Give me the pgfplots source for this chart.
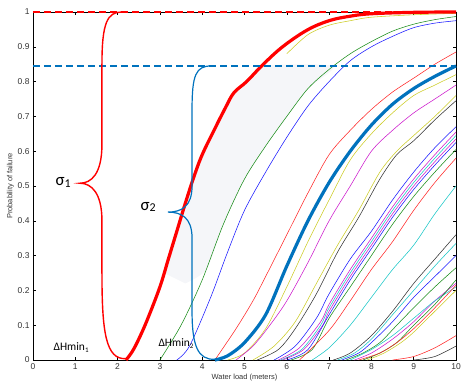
\documentclass[border=0pt]{standalone}
\usepackage{pgfplots}
\pgfplotsset{compat=1.18}
\usepackage{fontspec}
\setmainfont{Liberation Sans}
\newfontfamily\calfont{Carlito}
\definecolor{mb}{rgb}{0.1,0.1,1}
\definecolor{mg}{rgb}{0.1,0.55,0.1}
\definecolor{mr}{rgb}{1,0.15,0.15}
\definecolor{mc}{rgb}{0.1,0.78,0.78}
\definecolor{mm}{rgb}{0.8,0.1,0.8}
\definecolor{my}{rgb}{0.8,0.8,0.15}
\definecolor{mk}{rgb}{0.2,0.2,0.2}
\definecolor{tblue}{HTML}{0072BD}
\definecolor{shade}{HTML}{F5F6F9}
\begin{document}
\begin{tikzpicture}
\begin{axis}[name=ax, scale only axis, width=423bp, height=348bp,
  xmin=0, xmax=10, ymin=0, ymax=1,
  xtick={0,1,2,3,4,5,6,7,8,9,10},
  ytick={0,0.1,0.2,0.3,0.4,0.5,0.6,0.7,0.8,0.9,1},
  yticklabels={0,0.1,0.2,0.3,0.4,0.5,0.6,0.7,0.8,0.9,1},
  /pgf/number format/assume math mode=true,
  tick label style={font=\fontsize{8.5}{10}\selectfont, text=black!80},
  major tick length=3bp,
  tick style={black, line width=0.5bp},
  axis line style={black, line width=0.7bp},
  xlabel={Water load (meters)}, ylabel={Probability of failure},
  label style={font=\fontsize{7.5}{9}\selectfont, text=black!80},
  xlabel style={yshift=2bp},
  ylabel style={yshift=-3bp},
  clip=false, every axis plot/.append style={line join=round},
  thin/.style={line width=0.55bp, smooth, tension=0.5},
]
% shaded region
\addplot[draw=none, fill=shade, smooth, tension=0.4] coordinates {(3.1,0.25)(3.4,0.37)(3.75,0.51)(4.0,0.59)(4.3,0.665)(4.55,0.725)(4.75,0.768)(5.05,0.80)(5.43,0.845)(7.1,0.845)(6.5,0.78)(6.0,0.70)(5.5,0.615)(5.0,0.52)(4.5,0.39)(4.1,0.26)(3.6,0.22)} -- cycle;
% thin curves
\addplot[mg, thin] coordinates {(3.0,0)(3.5,0.1)(4.0,0.23)(4.5,0.39)(5.0,0.52)(5.5,0.615)(6.0,0.70)(6.5,0.78)(7.0,0.835)(7.5,0.88)(8.0,0.915)(8.5,0.945)(9.0,0.965)(9.5,0.978)(10,0.987)};
\addplot[mb, thin] coordinates {(3.4,0)(3.7,0.04)(4.2,0.18)(4.6,0.31)(5.0,0.43)(5.5,0.54)(6.0,0.64)(6.5,0.73)(7.0,0.80)(7.5,0.86)(8.0,0.90)(8.5,0.93)(9.0,0.955)(9.5,0.968)(10,0.975)};
\addplot[my, thin] coordinates {(6.0,0.88)(6.5,0.935)(7,0.962)(7.5,0.975)(8,0.985)(9,0.992)(10,0.996)};
\addplot[mr, thin] coordinates {(4.3,0)(4.8,0.09)(5.2,0.17)(5.5,0.24)(6.0,0.36)(6.5,0.48)(7.0,0.59)(7.5,0.66)(8.0,0.72)(8.5,0.77)(9.0,0.81)(9.5,0.85)(10,0.885)};
\addplot[my, thin] coordinates {(4.6,0)(5.0,0.02)(5.5,0.09)(6.0,0.21)(6.5,0.34)(7.0,0.46)(7.5,0.575)(8.0,0.65)(8.5,0.71)(9.0,0.76)(9.5,0.79)(10,0.82)};
\addplot[mm, thin] coordinates {(4.8,0)(5.2,0.04)(5.6,0.10)(6.0,0.17)(6.5,0.28)(7.0,0.40)(7.5,0.50)(8.0,0.60)(8.5,0.66)(9.0,0.71)(9.5,0.75)(10,0.79)};
\addplot[my, thin] coordinates {(5.2,0)(5.7,0.04)(6.2,0.11)(6.7,0.22)(7.2,0.33)(7.7,0.43)(8.2,0.54)(8.6,0.60)(9.0,0.645)(9.5,0.70)(10,0.76)};
\addplot[mk, thin] coordinates {(5.3,0)(5.8,0.03)(6.2,0.09)(6.7,0.19)(7.2,0.31)(7.7,0.41)(8.2,0.52)(8.6,0.59)(9.0,0.63)(9.5,0.69)(10,0.745)};
% bundle
\addplot[mb, thin] coordinates {(5.7,0)(6.2,0.04)(6.7,0.12)(7.0,0.19)(7.5,0.29)(8.0,0.37)(8.5,0.46)(9.0,0.54)(9.5,0.61)(10,0.67)};
\addplot[mm, thin] coordinates {(5.8,0)(6.3,0.035)(6.8,0.11)(7.0,0.16)(7.5,0.26)(8.0,0.35)(8.5,0.44)(9.0,0.52)(9.5,0.59)(10,0.655)};
\addplot[mc, thin] coordinates {(5.85,0)(6.35,0.03)(6.8,0.10)(7.0,0.15)(7.5,0.25)(8.0,0.34)(8.5,0.43)(9.0,0.51)(9.5,0.58)(10,0.645)};
\addplot[mm, thin] coordinates {(5.9,0)(6.4,0.03)(6.85,0.10)(7.0,0.14)(7.5,0.24)(8.0,0.33)(8.5,0.42)(9.0,0.50)(9.5,0.57)(10,0.635)};
\addplot[mb, thin] coordinates {(6.0,0)(6.5,0.03)(7.0,0.13)(7.5,0.23)(8.0,0.32)(8.5,0.41)(9.0,0.49)(9.5,0.56)(10,0.625)};
\addplot[mg, thin] coordinates {(6.1,0)(6.6,0.03)(7.0,0.12)(7.5,0.21)(8.0,0.30)(8.5,0.39)(9.0,0.47)(9.5,0.54)(10,0.605)};
\addplot[mr, thin] coordinates {(6.3,0)(7.0,0.085)(7.5,0.17)(8.0,0.26)(8.5,0.34)(9.0,0.43)(9.5,0.51)(10,0.58)};
\addplot[mc, thin] coordinates {(6.6,0)(7.0,0.035)(7.5,0.10)(8.0,0.18)(8.5,0.26)(9.0,0.33)(9.5,0.42)(10,0.50)};
% bottom right group
\addplot[mk, thin] coordinates {(7.1,0)(7.5,0.02)(8.0,0.07)(8.5,0.14)(9.0,0.22)(9.5,0.29)(10,0.36)};
\addplot[mc, thin] coordinates {(7.2,0)(7.6,0.02)(8.0,0.06)(8.5,0.13)(9.0,0.20)(9.5,0.27)(10,0.335)};
\addplot[mb, thin] coordinates {(7.3,0)(7.7,0.02)(8.0,0.05)(8.5,0.11)(9.0,0.18)(9.5,0.24)(10,0.30)};
\addplot[mg, thin] coordinates {(7.4,0)(7.8,0.02)(8.2,0.05)(8.6,0.10)(9.0,0.15)(9.5,0.21)(10,0.265)};
\addplot[mm, thin] coordinates {(7.6,0)(8.0,0.02)(8.5,0.06)(9.0,0.11)(9.5,0.17)(10,0.22)};
\addplot[mc, thin] coordinates {(7.5,0)(8.0,0.03)(8.5,0.07)(9.0,0.12)(9.5,0.17)(10,0.21)};
\addplot[mg, thin] coordinates {(7.8,0)(8.2,0.02)(8.6,0.05)(9.0,0.10)(9.5,0.16)(10,0.23)};
\addplot[mr, thin] coordinates {(7.7,0)(8.2,0.02)(8.6,0.05)(9.0,0.09)(9.5,0.15)(10,0.215)};
\addplot[my, thin] coordinates {(7.9,0)(8.3,0.02)(8.7,0.05)(9.0,0.08)(9.5,0.14)(10,0.20)};
\addplot[mr, thin] coordinates {(8.5,0)(9.0,0.01)(9.5,0.035)(10,0.07)};
\addplot[mk, thin] coordinates {(9.0,0)(9.5,0.01)(10,0.04)};
% thick curves
\addplot[red, line width=3.2bp, smooth, tension=0.6] coordinates {(2.2,0)(2.35,0.025)(2.5,0.06)(2.7,0.115)(3.0,0.21)(3.2,0.29)(3.4,0.37)(3.6,0.45)(3.8,0.525)(4.0,0.59)(4.3,0.665)(4.55,0.725)(4.75,0.768)(5.05,0.80)(5.43,0.848)(5.9,0.90)(6.48,0.948)(7.0,0.975)(7.5,0.988)(8.0,0.995)(9.0,0.999)(10,1.0)};
\addplot[tblue, line width=3.2bp, smooth, tension=0.5] coordinates {(4.3,0)(4.6,0.012)(5.0,0.05)(5.5,0.13)(6.0,0.27)(6.5,0.40)(7.0,0.51)(7.5,0.60)(8.0,0.675)(8.5,0.735)(9.0,0.78)(9.5,0.815)(10,0.845)};
% dashed levels
\addplot[red, line width=1.3bp, dash pattern=on 7bp off 4bp] coordinates {(0,1)(10,1)};
\addplot[tblue, line width=1.3bp, dash pattern=on 7bp off 4bp] coordinates {(0,0.845)(10,0.845)};
% braces
\draw[red, line width=1.4bp] (axis cs:2.2,0.004) .. controls (axis cs:1.72,0.0) and (axis cs:1.63,0.08) .. (axis cs:1.63,0.25) -- (axis cs:1.63,0.40) .. controls (axis cs:1.63,0.48) and (axis cs:1.38,0.508) .. (axis cs:1.11,0.508) .. controls (axis cs:1.38,0.508) and (axis cs:1.63,0.535) .. (axis cs:1.63,0.62) -- (axis cs:1.63,0.85) .. controls (axis cs:1.63,0.97) and (axis cs:1.76,1.0) .. (axis cs:2.1,1.0);
\draw[tblue, line width=1.2bp] (axis cs:4.3,0.002) .. controls (axis cs:3.9,0.0) and (axis cs:3.76,0.04) .. (axis cs:3.76,0.14) -- (axis cs:3.76,0.35) .. controls (axis cs:3.76,0.41) and (axis cs:3.5,0.425) .. (axis cs:3.19,0.425) .. controls (axis cs:3.5,0.425) and (axis cs:3.76,0.44) .. (axis cs:3.76,0.50) -- (axis cs:3.76,0.72) .. controls (axis cs:3.76,0.82) and (axis cs:3.85,0.845) .. (axis cs:4.22,0.845);
% labels
\node[anchor=center] at (axis cs:0.71,0.51) {\calfont\fontsize{17}{17}\selectfont σ\raisebox{-0.1em}{\fontsize{12}{12}\selectfont 1}};
\node[anchor=center] at (axis cs:2.72,0.44) {\calfont\fontsize{17}{17}\selectfont σ\raisebox{-0.1em}{\fontsize{12}{12}\selectfont 2}};
\node[anchor=center] at (axis cs:0.9,0.035) {\calfont\fontsize{11.5}{11.5}\selectfont ΔHmin\raisebox{-0.15em}{\fontsize{7}{7}\selectfont 1}};
\node[anchor=center] at (axis cs:3.38,0.047) {\calfont\fontsize{11.5}{11.5}\selectfont ΔHmin\raisebox{-0.15em}{\fontsize{7}{7}\selectfont 2}};
\end{axis}
\pgfresetboundingbox
\path ([shift={(-33bp,-30bp)}]ax.south west) rectangle ([shift={(18bp,12bp)}]ax.north east);
\end{tikzpicture}
\end{document}
